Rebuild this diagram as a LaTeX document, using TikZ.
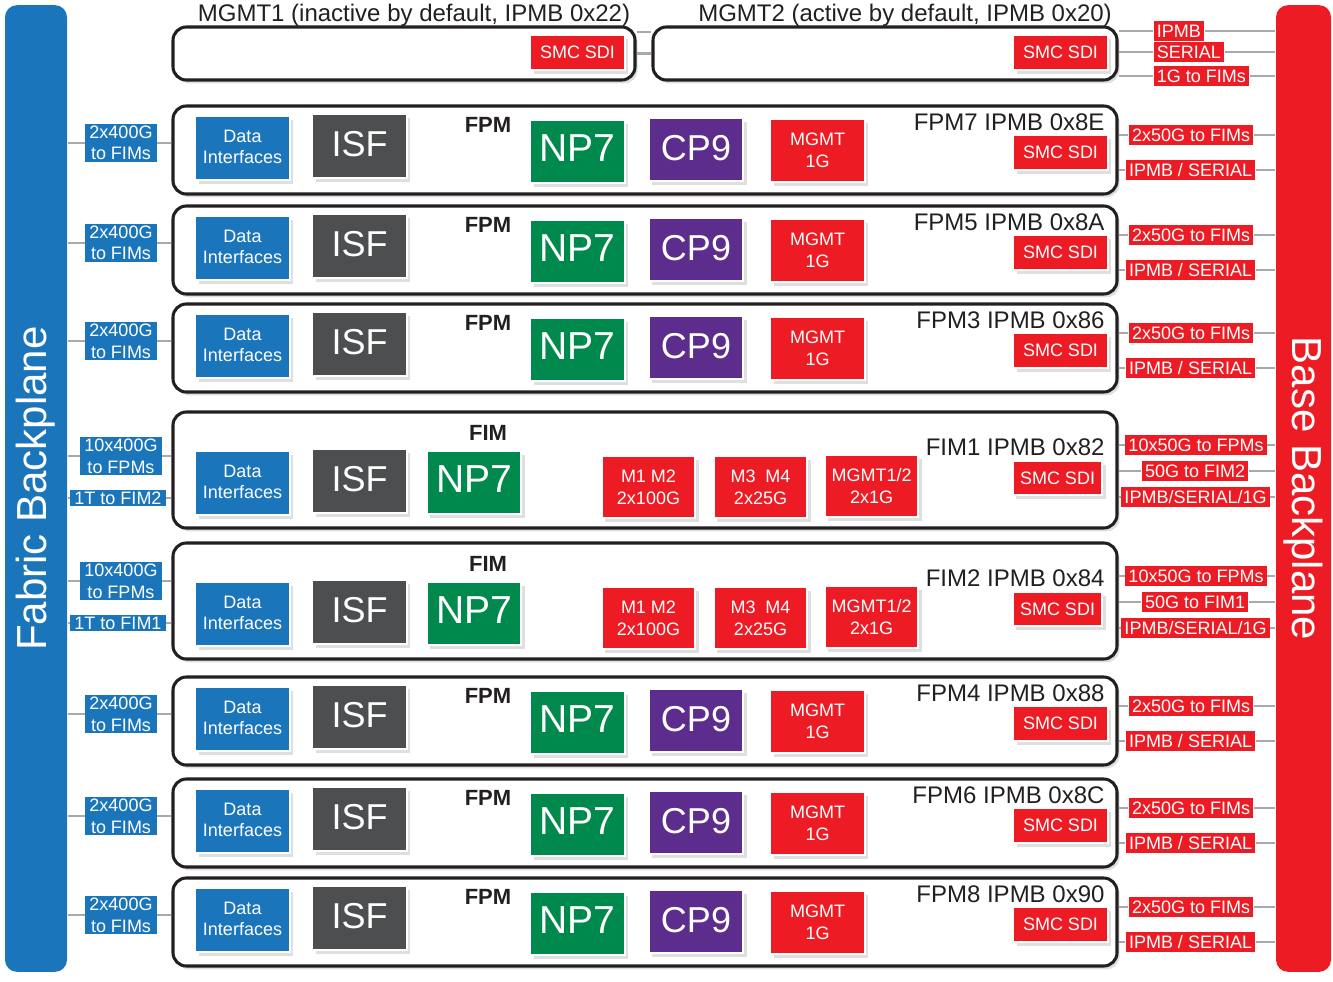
\documentclass[tikz,border=0pt]{standalone}
\usepackage{fontspec}
\setmainfont{Liberation Sans}
\usetikzlibrary{shadows}
\definecolor{fabricBlue}{RGB}{27,117,187}
\definecolor{baseRed}{RGB}{237,28,36}
\definecolor{isfGray}{RGB}{77,78,79}
\definecolor{npGreen}{RGB}{0,137,76}
\definecolor{cpPurple}{RGB}{92,45,140}
\definecolor{wireGray}{RGB}{167,169,172}
\definecolor{inkBlack}{RGB}{35,31,32}
\newcommand\pxfont[1]{\fontsize{\dimexpr #1pt*3/4\relax}{\dimexpr #1pt*9/10\relax}\selectfont}

\begin{document}
\begin{tikzpicture}[x=0.75pt, y=-0.75pt, thick]
  % Define styles
  \tikzstyle{plane} = [rectangle, rounded corners=9pt, minimum height=725pt]
  \tikzstyle{slot} = [rectangle, rounded corners=10pt, draw=inkBlack, line width=2.3pt, fill=white, drop shadow={shadow xshift=2pt, shadow yshift=-2.5pt, opacity=0.25}]
  \tikzstyle{chip} = [rectangle, draw=white, line width=1.5pt, text=white, align=center, inner sep=0pt, minimum width=71pt, minimum height=47.5pt, drop shadow={shadow xshift=2.5pt, shadow yshift=-3pt, opacity=0.25}]
  \tikzstyle{datachip} = [chip, fill=fabricBlue, font=\pxfont{18}, text depth=2pt]
  \tikzstyle{isfchip} = [chip, fill=isfGray, font=\pxfont{36}, text depth=3pt]
  \tikzstyle{npchip} = [chip, fill=npGreen, font=\pxfont{39}, text depth=4.5pt]
  \tikzstyle{cpchip} = [chip, fill=cpPurple, font=\pxfont{36}, text depth=3pt]
  \tikzstyle{redchip} = [chip, fill=baseRed, font=\pxfont{18}]
  \tikzstyle{smcchip} = [redchip, minimum height=26pt]
  \tikzstyle{fablabel} = [fill=fabricBlue, text=white, font=\pxfont{18}, align=center, inner xsep=3pt, inner ysep=1.5pt]
  \tikzstyle{baselabel} = [fill=baseRed, text=white, font=\pxfont{18}, inner xsep=2.5pt, inner ysep=0pt, minimum height=15pt]
  \tikzstyle{title} = [font=\pxfont{24}, text=inkBlack, inner sep=0pt]
  \tikzstyle{kind} = [font=\bfseries\pxfont{22}, text=inkBlack, inner sep=0pt, anchor=base]
  \tikzstyle{wire} = [draw=wireGray, line width=2pt]

  \useasboundingbox (0,0) rectangle (1333,981);

  % Backplanes
  \node [plane, fill=fabricBlue, minimum width=46.5pt, label={[rotate=90, text=white, font=\pxfont{42}]center:Fabric Backplane}] (fabricPlane) at (36,488.5) {};
  \node [plane, fill=baseRed, minimum width=41.25pt, label={[rotate=-90, text=white, font=\pxfont{42}]center:Base Backplane}] (basePlane) at (1303.5,488.5) {};

  % Management modules
  \node [slot, minimum width=346.5pt, minimum height=39.75pt] (mgmtOne) at (404,53.5) {};
  \node [slot, minimum width=348pt, minimum height=39.75pt] (mgmtTwo) at (885,53.5) {};
  \node [title, anchor=base] at (414,22) {MGMT1 (inactive by default, IPMB 0x22)};
  \node [title, anchor=base] at (905,22) {MGMT2 (active by default, IPMB 0x20)};
  \node [smcchip] (smcOne) at (577.5,52.5) {SMC SDI};
  \node [smcchip] (smcTwo) at (1060.5,52.5) {SMC SDI};
  \node [baselabel, anchor=west] (lblIpmb) at (1153,31) {IPMB};
  \node [baselabel, anchor=west] (lblSerial) at (1153,52) {SERIAL};
  \node [baselabel, anchor=west] (lblGig) at (1153,76) {1G to FIMs};
  \draw [wire] ([yshift=16pt]mgmtOne.east) -- ([yshift=16pt]mgmtTwo.west);
  \draw [wire] (mgmtOne.east) -- (mgmtTwo.west);
  \foreach \l in {lblIpmb, lblSerial, lblGig}
    \draw [wire] (mgmtTwo.east |- \l) -- (\l) -- (basePlane.west |- \l);

  % FPM rows
  \foreach \n/\t/\addr in {7/106/8E, 5/206/8A, 3/304/86, 4/677/88, 6/779/8C, 8/878/90} {
    \node [slot, minimum width=708pt, minimum height=66pt] (fpm\n) at (645,\t+44) {};
    \node [datachip, minimum height=48pt] (dataIf\n) at (242.5,\t+42) {Data\\Interfaces};
    \node [isfchip, minimum height=48pt] (isf\n) at (359.5,\t+40) {ISF};
    \node [kind] at (488,\t+26) {FPM};
    \node [npchip] (np\n) at (577.5,\t+45.5) {NP7};
    \node [cpchip] (cp\n) at (696,\t+43.5) {CP9};
    \node [redchip] (mgmt\n) at (817.5,\t+44.5) {MGMT\\1G};
    \node [title, anchor=base east] at (1105,\t+24) {FPM\n\ IPMB 0x\addr};
    \node [smcchip] (smc\n) at (1060.5,\t+46.5) {SMC SDI};
    \node [fablabel] (fabLbl\n) at (121,\t+37) {2x400G\\to FIMs};
    \node [baselabel] (upLbl\n) at (1191,\t+29) {2x50G to FIMs};
    \node [baselabel] (ctlLbl\n) at (1190.5,\t+64) {IPMB / SERIAL};
    \draw [wire] (fabricPlane.east |- fabLbl\n) -- (fabLbl\n) -- (fpm\n.west |- fabLbl\n);
    \draw [wire] (fpm\n.east |- upLbl\n) -- (upLbl\n) -- (basePlane.west |- upLbl\n);
    \draw [wire] (fpm\n.east |- ctlLbl\n) -- (ctlLbl\n) -- (basePlane.west |- ctlLbl\n);
  }

  % FIM rows
  \foreach \n/\t/\peer/\addr/\ya/\yb in {1/412/2/82/456/498, 2/543/1/84/581/623} {
    \node [slot, minimum width=708pt, minimum height=87pt] (fim\n) at (645,\t+58) {};
    \node [kind] at (488,\t+28) {FIM};
    \node [datachip, minimum height=48pt] (fimDataIf\n) at (242.5,\t+71) {Data\\Interfaces};
    \node [isfchip, minimum height=48pt] (fimIsf\n) at (359.5,\t+69) {ISF};
    \node [npchip] (fimNp\n) at (474,\t+70.5) {NP7};
    \node [redchip, minimum width=70pt, minimum height=46.5pt] (portA\n) at (648.5,\t+75) {M1 M2\\2x100G};
    \node [redchip, minimum width=70pt, minimum height=46.5pt] (portB\n) at (760.5,\t+75) {M3~ M4\\2x25G};
    \node [redchip, minimum width=70pt, minimum height=46.5pt] (fimMgmt\n) at (871.5,\t+74) {MGMT1/2\\2x1G};
    \node [title, anchor=base east] at (1105,\t+43) {FIM\n\ IPMB 0x\addr};
    \node [smcchip, minimum width=67pt, minimum height=25.5pt] (fimSmc\n) at (1057.5,\t+66) {SMC SDI};
    \node [fablabel] (fimFabLbl\n) at (121,\ya) {10x400G\\to FPMs};
    \node [fablabel] (fimPeerLbl\n) at (118,\yb) {1T to FIM\peer};
    \node [baselabel] (fimUpLbl\n) at (1196,\t+33) {10x50G to FPMs};
    \node [baselabel] (fimPeerUp\n) at (1195,\t+59) {50G to FIM\peer};
    \node [baselabel] (fimCtlLbl\n) at (1195.5,\t+85) {IPMB/SERIAL/1G};
    \foreach \l in {fimFabLbl\n, fimPeerLbl\n}
      \draw [wire] (fabricPlane.east |- \l) -- (\l) -- (fim\n.west |- \l);
    \foreach \l in {fimUpLbl\n, fimPeerUp\n, fimCtlLbl\n}
      \draw [wire] (fim\n.east |- \l) -- (\l) -- (basePlane.west |- \l);
  }
\end{tikzpicture}
\end{document}
